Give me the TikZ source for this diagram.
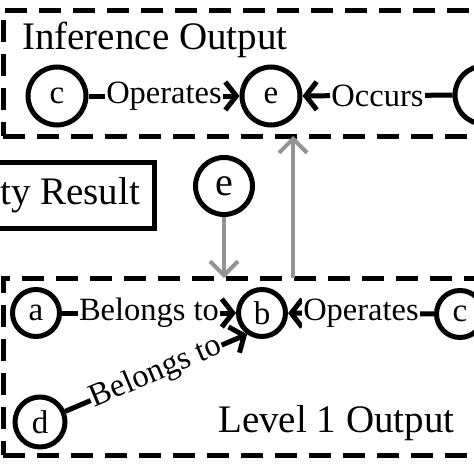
\documentclass[tikz,border=0pt]{standalone}
\usepackage{fontspec}
\setmainfont{Liberation Serif}
\usetikzlibrary{arrows.meta}
\begin{document}
\begin{tikzpicture}[x=1pt,y=-1pt,
  ent/.style={circle,draw,line width=5pt,inner sep=0pt,font=\fontsize{33}{33}\selectfont},
  bigent/.style={ent,minimum size=58pt},
  smallent/.style={ent,minimum size=47pt},
  rel/.style={line width=5pt,-{Straight Barb[length=11pt,width=28pt]}},
  lbl/.style={fill=white,inner sep=1pt,font=\fontsize{32.5}{33}\selectfont},
  grp/.style={draw,line width=5pt,dash pattern=on 22pt off 12pt,rectangle,inner sep=0pt,outer sep=0pt},
  title/.style={inner sep=0pt,anchor=base west,font=\fontsize{39}{40}\selectfont},
  flow/.style={draw=gray!85,line width=4pt,-{Straight Barb[length=14pt,width=28pt]}}
]
\useasboundingbox (0,0) rectangle (474,474);
\clip (0,0) rectangle (474,474);

% group boxes
\node[grp,minimum width=527pt,minimum height=126pt] (inf) at (266.5,73) {};
\node[grp,minimum width=527pt,minimum height=177pt] (lvl) at (266.5,366.5) {};

% titles
\node[title] (tinf) at (22,49) {Inference Output};
\node[title] (tlvl) at (218,432) {Level 1 Output};

% result box
\node[draw,line width=5pt,outer sep=0pt,anchor=east,minimum height=66pt,inner xsep=14.5pt,
      font=\fontsize{39}{40}\selectfont] (res) at (154.5,195) {ty Result};

% inference output nodes
\node[bigent] (c1) at (57,96) {c};
\node[bigent] (e1) at (271,96) {e};
\node[bigent] (x1) at (484,95) {};
\draw[rel] (c1) -- node[lbl] {Operates} (e1);
\draw[rel] (x1) -- node[lbl] {Occurs} (e1);

% middle node
\node[ent,minimum size=57pt,font=\fontsize{40}{40}\selectfont] (e2) at (224,186) {e};

% level 1 nodes
\node[smallent] (a) at (36,313) {a};
\node[smallent] (b) at (262,313) {b};
\node[smallent] (c2) at (460,314) {c};
\node[ent,minimum size=50pt] (d) at (40,422) {d};
\draw[rel] (a) -- node[lbl] {Belongs to} (b);
\draw[rel] (c2) -- node[lbl] {Operates} (b);
\draw[rel] (d) -- node[lbl,sloped] {Belongs to} (b.235);

% flow arrows
\draw[flow] (e2) -- (e2 |- lvl.north);
\coordinate (upfoot) at (293,278);
\draw[flow] (upfoot) -- (upfoot |- inf.south);
\end{tikzpicture}
\end{document}
